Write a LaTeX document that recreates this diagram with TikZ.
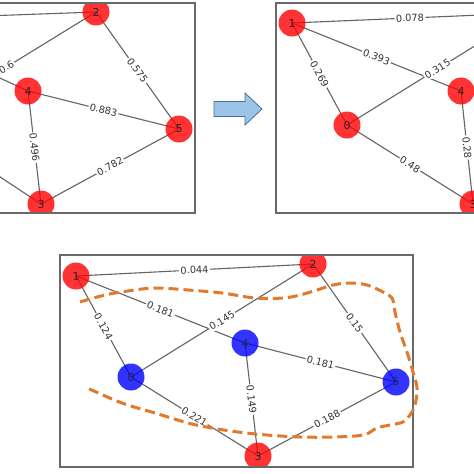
\documentclass[tikz,border=0pt]{standalone}
\usepackage{fontspec}
\setmainfont{DejaVu Sans}
\definecolor{edgegray}{RGB}{100,100,100}
\definecolor{framegray}{RGB}{105,105,105}
\definecolor{vred}{RGB}{255,0,0}
\definecolor{vblue}{RGB}{0,0,255}
\definecolor{curveorange}{RGB}{226,122,44}
\definecolor{arrowfill}{RGB}{157,195,230}
\definecolor{arrowdraw}{RGB}{65,113,156}
\tikzset{
  edge/.style={draw=edgegray, line width=1.1pt},
  lbl/.style={midway, sloped, fill=white, rounded corners=2pt, inner sep=1.3pt,
    text=black!80, font=\fontsize{9.8}{10}\selectfont},
  vert/.style={circle, minimum size=27pt, inner sep=0pt, fill opacity=0.8,
    text opacity=1, text=black!85, font=\fontsize{11}{12}\selectfont},
  rv/.style={vert, fill=vred},
  bv/.style={vert, fill=vblue},
  frame/.style={draw=framegray, line width=1.2pt},
  cluster/.style={draw=curveorange, line width=3pt, dash pattern=on 10pt off 5pt},
  bigarrow/.style={fill=arrowfill, draw=arrowdraw, line width=0.8pt, line join=miter}
}
\begin{document}
\begin{tikzpicture}[x=1pt, y=-1pt]
\useasboundingbox (0,0) rectangle (474,474);
\fill[white] (0,0) rectangle (474,474);
\clip (0,0) rectangle (474,474);

% ---------- top-left panel ----------
\begin{scope}
\clip (-300,3) rectangle (195,213);
\coordinate (a1) at (-126,20);
\coordinate (a0) at (-83,122);
\coordinate (a2) at (96,12);
\coordinate (a4) at (28,91);
\coordinate (a5) at (179,129);
\coordinate (a3) at (41,204);
\draw[edge] (a1) -- (a2);
\draw[edge] (a1) -- (a4);
\draw[edge] (a0) -- (a3);
\draw[edge] (a0) -- (a2) node[lbl] {0.6};
\draw[edge] (a2) -- (a5) node[lbl] {0.575};
\draw[edge] (a4) -- (a5) node[lbl] {0.883};
\draw[edge] (a4) -- (a3) node[lbl] {0.496};
\draw[edge] (a3) -- (a5) node[lbl] {0.782};
\node[rv] (A2) at (a2) {2};
\node[rv] (A4) at (a4) {4};
\node[rv] (A5) at (a5) {5};
\node[rv] (A3) at (a3) {3};
\end{scope}
\draw[frame] (-300,3) rectangle (195,213);

% ---------- arrow ----------
\draw[bigarrow] (214,101.5) -- (245,101.5) -- (245,93) -- (262,109) -- (245,125) -- (245,116.5) -- (214,116.5) -- cycle;

% ---------- top-right panel ----------
\begin{scope}
\clip (276,3) rectangle (700,213);
\coordinate (b1) at (292,23);
\coordinate (b0) at (347,125);
\coordinate (b4) at (461,91);
\coordinate (b3) at (473,204);
\coordinate (b2) at (528,13);
\draw[edge] (b1) -- (b2) node[lbl] {0.078};
\draw[edge] (b1) -- (b4) node[lbl] {0.393};
\draw[edge] (b0) -- (b2) node[lbl] {0.315};
\draw[edge] (b1) -- (b0) node[lbl] {0.269};
\draw[edge] (b0) -- (b3) node[lbl] {0.48};
\draw[edge] (b4) -- (b3) node[lbl] {0.28};
\node[rv] (B1) at (b1) {1};
\node[rv] (B0) at (b0) {0};
\node[rv] (B4) at (b4) {4};
\node[rv] (B3) at (b3) {3};
\end{scope}
\draw[frame] (276,3) rectangle (700,213);

% ---------- bottom panel ----------
\begin{scope}
\clip (60,255) rectangle (413,467);
\coordinate (c1) at (76,276);
\coordinate (c0) at (131,377);
\coordinate (c4) at (245,343);
\coordinate (c3) at (258,456);
\coordinate (c2) at (313,264);
\coordinate (c5) at (396,382);
\draw[edge] (c1) -- (c2) node[lbl] {0.044};
\draw[edge] (c1) -- (c4) node[lbl] {0.181};
\draw[edge] (c0) -- (c2) node[lbl] {0.145};
\draw[edge] (c1) -- (c0) node[lbl] {0.124};
\draw[edge] (c0) -- (c3) node[lbl] {0.221};
\draw[edge] (c4) -- (c3) node[lbl] {0.149};
\draw[edge] (c2) -- (c5) node[lbl] {0.15};
\draw[edge] (c4) -- (c5) node[lbl] {0.181};
\draw[edge] (c3) -- (c5) node[lbl] {0.188};
\node[rv] (C1) at (c1) {1};
\node[bv] (C0) at (c0) {0};
\node[bv] (C4) at (c4) {4};
\node[rv] (C3) at (c3) {3};
\node[rv] (C2) at (c2) {2};
\node[bv] (C5) at (c5) {5};
\end{scope}
\draw[frame] (60,255) rectangle (413,467);

% ---------- cluster outline ----------
\draw[cluster] plot[smooth, tension=0.6] coordinates {
 (80,302) (105,295) (128,291) (155,288) (188,290) (222,293) (255,298)
 (283,298) (300,295) (317,290) (333,285) (350,283) (367,285) (383,292)
 (392,298) (395,312) (400,332) (407,352) (413,372) (417,388) (415,405)
 (410,415) (403,422) (390,425) (377,428) (363,435) (333,437) (300,437)
 (267,435) (238,432) (212,428) (188,423) (155,413) (122,403) (85,387)};
\end{tikzpicture}
\end{document}
